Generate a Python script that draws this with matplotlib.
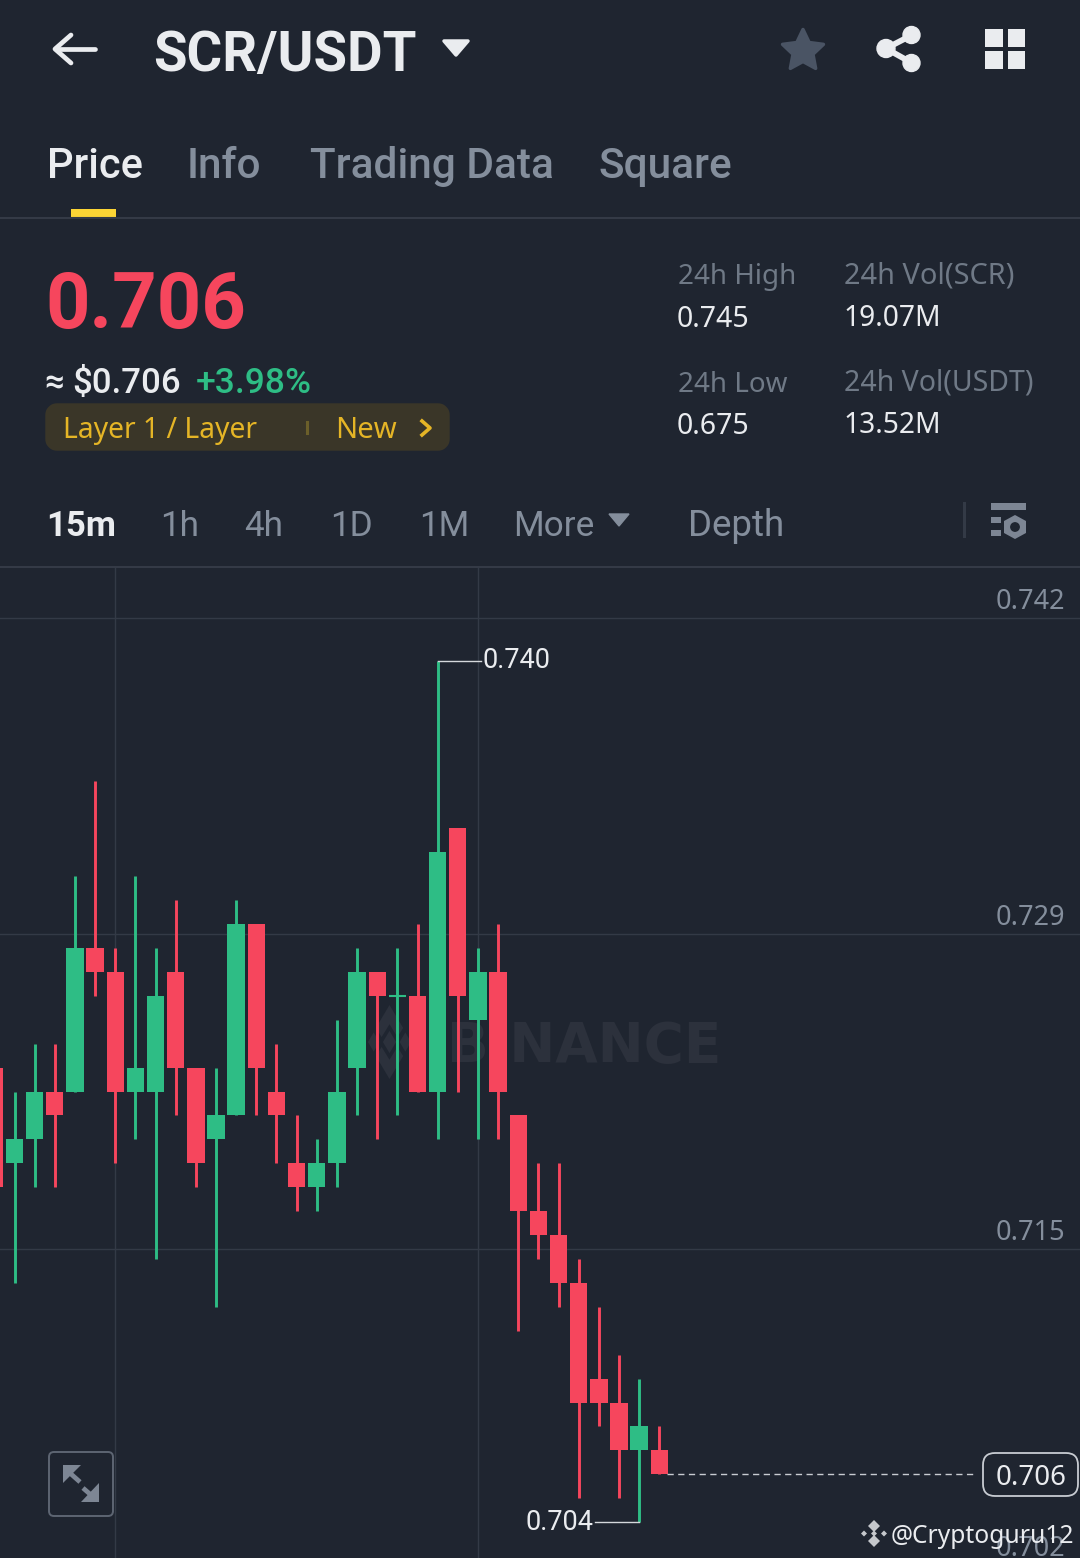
import matplotlib
matplotlib.use('Agg')
import matplotlib.pyplot as plt
from matplotlib.patches import FancyBboxPatch, Rectangle, Polygon, Circle
from matplotlib.transforms import blended_transform_factory
import numpy as np

# Candle data (one per 15m, price steps of 0.001)
candle_index = list(range(-1, 33))
opens = [0.723, 0.719, 0.720, 0.722, 0.722, 0.728, 0.727, 0.722, 0.722, 0.727, 0.723, 0.720,
         0.721, 0.729, 0.722, 0.719, 0.718, 0.719, 0.723, 0.727, 0.726, 0.726, 0.722, 0.733,
         0.725, 0.727, 0.721, 0.717, 0.716, 0.714, 0.710, 0.709, 0.707, 0.707]
closes = [0.718, 0.720, 0.722, 0.721, 0.728, 0.727, 0.722, 0.723, 0.726, 0.723, 0.719, 0.721,
          0.729, 0.723, 0.721, 0.718, 0.719, 0.722, 0.727, 0.726, 0.726, 0.722, 0.732, 0.726,
          0.727, 0.722, 0.717, 0.716, 0.714, 0.709, 0.709, 0.707, 0.708, 0.706]
highs = [0.723, 0.722, 0.724, 0.724, 0.731, 0.735, 0.728, 0.731, 0.728, 0.730, 0.723, 0.723,
         0.730, 0.729, 0.724, 0.721, 0.720, 0.725, 0.728, 0.727, 0.728, 0.729, 0.740, 0.733,
         0.728, 0.729, 0.721, 0.719, 0.719, 0.715, 0.713, 0.711, 0.710, 0.708]
lows = [0.718, 0.714, 0.718, 0.718, 0.722, 0.726, 0.719, 0.720, 0.715, 0.721, 0.718, 0.713,
        0.721, 0.721, 0.719, 0.717, 0.717, 0.718, 0.721, 0.720, 0.721, 0.722, 0.720, 0.722,
        0.720, 0.720, 0.712, 0.715, 0.713, 0.705, 0.708, 0.705, 0.704, 0.706]

price_ticks = [0.7418, 0.7286, 0.7154, 0.7022]
price_tick_labels = ['0.742', '0.729', '0.715', '0.702']
last_price = 0.706

tabs = ['Info', 'Trading Data', 'Square']
intervals = ['1h', '4h', '1D', '1M', 'More']

BG = '#1f2530'
GRID = '#333a46'
RED = '#f6465d'
GREEN = '#2ebd85'
WHITE = '#eaecef'
GRAY = '#848e9c'
DIM = '#6f7986'
ICON = '#7d8694'
MARK = '#2c313c'
YELLOW = '#e5b526'
FONT = 'Roboto'
LABEL_FONT = 'Noto Sans'

W, H = 1080, 1558
PX_PER_PRICE = 23920
fig = plt.figure(figsize=(W / 100, H / 100), dpi=100, facecolor=BG)

# watermark layer goes under the chart
wm = fig.add_axes([0, 0, 1, 1], facecolor='none', zorder=0)
wm.set_xlim(0, W)
wm.set_ylim(H, 0)
wm.axis('off')
wm.text(447, 1062, 'BINANCE', fontsize=39.5, fontweight='bold', family='DejaVu Sans', color=MARK, ha='left', va='baseline')


def wm_diamond(cx, cy, r):
    # logo is stretched, 22 wide and 37 high around its centre
    wm.add_patch(Polygon([[389.5 + cx * 22, 1042 + (cy - r) * 37], [389.5 + (cx + r) * 22, 1042 + cy * 37],
                          [389.5 + cx * 22, 1042 + (cy + r) * 37], [389.5 + (cx - r) * 22, 1042 + cy * 37]],
                         closed=True, color=MARK, lw=0))


wm_diamond(0, 0, 0.3)
wm_diamond(-0.72, 0, 0.26)
wm_diamond(0.72, 0, 0.26)
for sign in [-1, 1]:
    pts = [[0, sign * 1.0], [0.62, sign * 0.38], [0.36, sign * 0.38 * 0.35], [0, sign * 0.48],
           [-0.36, sign * 0.38 * 0.35], [-0.62, sign * 0.38]]
    wm.add_patch(Polygon([[389.5 + a * 22, 1042 + b * 37] for a, b in pts], closed=True, color=MARK, lw=0))

# chart area, y scale is 23.92 px per 0.001
ax = fig.add_axes([0, 0, 1, (H - 568) / H], facecolor='none', zorder=1)
ax.set_xlim(-14.5 / 20.15, (W - 14.5) / 20.15)
ax.set_ylim(0.740 - (H - 661) / PX_PER_PRICE, 0.740 + (661 - 568) / PX_PER_PRICE)
for s in ax.spines.values():
    s.set_visible(False)
ax.set_xticks([])
ax.set_yticks([])

for t in price_ticks:
    ax.axhline(t, color=GRID, lw=1.0, zorder=1)
ax.axvline(5, color=GRID, lw=1.0, zorder=1)
ax.axvline(23, color=GRID, lw=1.0, zorder=1)

x = np.array(candle_index)
o = np.array(opens)
c = np.array(closes)
h = np.array(highs)
l = np.array(lows)
colors = [GREEN if c[i] >= o[i] else RED for i in range(len(x))]

ax.vlines(x, l, h, colors=colors, lw=2.1, zorder=3)
bottoms = np.minimum(o, c)
heights = np.abs(c - o)
ax.bar(x, heights, bottom=bottoms, width=0.86, color=colors, linewidth=0, zorder=4)
doji = heights == 0
ax.hlines(o[doji], x[doji] - 0.43, x[doji] + 0.43, colors=GREEN, lw=1.5, zorder=4)

# high and low markers
hi = int(np.argmax(h))
lo = int(np.argmin(l))
ax.plot([x[hi], x[hi] + 2.17], [h[hi], h[hi]], color='#d5d8dc', lw=1.0, zorder=5)
ax.text(x[hi] + 2.25, h[hi] + 4 / PX_PER_PRICE, f'{h[hi]:.3f}', color=WHITE, fontsize=19.5, family=FONT,
        ha='left', va='center_baseline', zorder=5)
ax.plot([x[lo] - 2.17, x[lo]], [l[lo], l[lo]], color='#d5d8dc', lw=1.0, zorder=5)
ax.text(x[lo] - 2.27, l[lo] + 3 / PX_PER_PRICE, f'{l[lo]:.3f}', color=WHITE, fontsize=19.5, family=FONT,
        ha='right', va='center_baseline', zorder=5)

# last price line
ax.plot([32.4, 47.65], [last_price, last_price], color='#c8ccd2', lw=1.0, dashes=(4.5, 3.2), zorder=5)

# price axis labels sit just above their grid line
trans = blended_transform_factory(ax.transAxes, ax.transData)
for t, lab in zip(price_ticks, price_tick_labels):
    ax.text(1065 / W, t + 9 / PX_PER_PRICE, lab, transform=trans, color=GRAY, fontsize=19.5, family=LABEL_FONT,
            ha='right', va='baseline', zorder=5, clip_on=False)

# everything else is drawn in pixel coords on a top layer
ui = fig.add_axes([0, 0, 1, 1], facecolor='none', zorder=2)
ui.set_xlim(0, W)
ui.set_ylim(H, 0)
ui.axis('off')


def txt(px, py, s, size, color, weight='normal', family=FONT, ha='left'):
    ui.text(px, py, s, fontsize=size, color=color, fontweight=weight, family=family, ha=ha, va='baseline')


# header
ui.plot([56, 95], [49, 49], color=WHITE, lw=3.4, solid_capstyle='round')
ui.plot([71, 55, 71], [35, 49, 63], color=WHITE, lw=3.4, solid_capstyle='round', solid_joinstyle='round')
txt(153, 71, 'SCR/USDT', 39.3, WHITE, 'bold')
ui.add_patch(Polygon([[444, 41], [468, 41], [456, 55]], closed=True, fc=WHITE, ec=WHITE, lw=2.5, joinstyle='round'))
# star
ang = np.pi / 2 + np.arange(10) * np.pi / 5
rad = np.where(np.arange(10) % 2 == 0, 21.5, 10.5)
ui.add_patch(Polygon(np.c_[803 + rad * np.cos(ang), 51 - rad * np.sin(ang)], closed=True,
                     fc='#4a5464', ec='#4a5464', lw=2.5, joinstyle='round'))
# share icon
ui.plot([912, 886, 912], [35, 48.5, 63], color=WHITE, lw=4.2)
for px, py, r in [(911.5, 35, 8.5), (886, 48.5, 9), (911.5, 63, 8.5)]:
    ui.add_patch(Circle((px, py), r, color=WHITE))
# grid icon
for px, py, w, hh in [(985, 29, 17.5, 17.5), (1007.5, 29, 17.5, 17.5), (985, 51, 17.5, 18), (1007.5, 51, 17.5, 18)]:
    ui.add_patch(Rectangle((px, py), w, hh, color=WHITE, lw=0))

# tabs
txt(47, 178, 'Price', 30, WHITE, 'medium')
for s, px in zip(tabs, [187, 310, 598]):
    txt(px, 178, s, 30.5, GRAY, 'medium')
ui.add_patch(Rectangle((71, 209), 45, 8, color='#fcd535', lw=0))
ui.plot([0, W], [218, 218], color='#343a46', lw=1.5)

# price block
txt(45, 328, '0.706', 56, RED, 'bold')
txt(44, 393, '≈', 25, WHITE, 'medium')
txt(72, 393, '$0.706', 25, WHITE, 'medium')
txt(196, 393, '+3.98%', 25.5, GREEN, 'medium')
ui.add_patch(FancyBboxPatch((55, 413), 385, 28, boxstyle='round,pad=0,rounding_size=2',
                            mutation_aspect=1, fc='#3a3628', ec='#3a3628', lw=14, joinstyle='round'))
txt(63, 438, 'Layer 1 / Layer', 20.4, YELLOW, family=LABEL_FONT)
ui.plot([307, 307], [422, 433], color='#6b5f2a', lw=2.2)
txt(335, 438, 'New', 21, YELLOW, family=LABEL_FONT)
ui.plot([422, 430, 422], [421, 428, 435], color=YELLOW, lw=2.6)

# 24h stats
txt(678, 284, '24h High', 20, DIM, family=LABEL_FONT)
txt(677, 327, '0.745', 20.5, WHITE, family=LABEL_FONT)
txt(678, 392, '24h Low', 20, DIM, family=LABEL_FONT)
txt(677, 434, '0.675', 20.5, WHITE, family=LABEL_FONT)
txt(844, 283, '24h Vol(SCR)', 20.8, DIM, family=LABEL_FONT)
txt(843, 326, '19.07M', 20.3, WHITE, family=LABEL_FONT)
txt(844, 390, '24h Vol(USDT)', 20.5, DIM, family=LABEL_FONT)
txt(843, 433, '13.52M', 20.3, WHITE, family=LABEL_FONT)

# interval row
txt(46, 536, '15m', 25, WHITE, 'bold')
for s, px in zip(intervals, [160, 244, 330, 419, 513]):
    txt(px, 536, s, 25.3, GRAY)
ui.add_patch(Polygon([[609, 514], [629, 514], [619, 526]], closed=True, color=GRAY))
txt(688, 536, 'Depth', 26.5, GRAY)
ui.add_patch(Rectangle((963, 502), 3, 36, color=GRID, lw=0))
# settings icon
ui.add_patch(Rectangle((990.5, 503), 35.5, 6.5, color=ICON, lw=0))
ui.add_patch(Rectangle((990.5, 517), 10.5, 5.5, color=ICON, lw=0))
ui.add_patch(Rectangle((990.5, 530), 10.5, 5.5, color=ICON, lw=0))
ui.add_patch(Polygon([[1015, 515], [1026, 521], [1026, 533], [1015, 539], [1004, 533], [1004, 521]], closed=True, color=ICON, lw=0))
ui.add_patch(Circle((1015, 527), 4.2, color=BG))
ui.plot([0, W], [567, 567], color='#343a46', lw=1.5)

# expand button
ui.add_patch(FancyBboxPatch((49, 1452), 64, 64, boxstyle='round,pad=0,rounding_size=5',
                            fc=BG, ec='#5d6572', lw=1.4))
ui.add_patch(Polygon([[63, 1465], [81, 1465], [63, 1483]], closed=True, color=ICON, lw=0))
ui.add_patch(Polygon([[98.5, 1483], [98.5, 1502], [81, 1502]], closed=True, color=ICON, lw=0))
ui.plot([71, 80], [1474, 1482], color=ICON, lw=3.4, solid_capstyle='butt')
ui.plot([83, 91], [1488, 1495], color=ICON, lw=3.4, solid_capstyle='butt')

# last price box
ui.add_patch(FancyBboxPatch((983, 1453), 95, 43, boxstyle='round,pad=0,rounding_size=12',
                            fc=BG, ec='#c8ccd2', lw=1.3))
ui.text(1031, 1485, f'{last_price:.3f}', fontsize=20, color=WHITE, family=LABEL_FONT, ha='center', va='baseline')

# corner credit
txt(891, 1543, '@Cryptoguru12', 17.7, WHITE, family=LABEL_FONT)
for px, py, r in [(874, 1526, 6), (874, 1541, 6), (864, 1533.5, 3), (884, 1533.5, 3), (874, 1533.5, 3)]:
    ui.add_patch(Polygon([[px, py - r], [px + r, py], [px, py + r], [px - r, py]], closed=True, color='#c5c8cc', lw=0))

fig.savefig('out.png', dpi=100, facecolor=BG)
